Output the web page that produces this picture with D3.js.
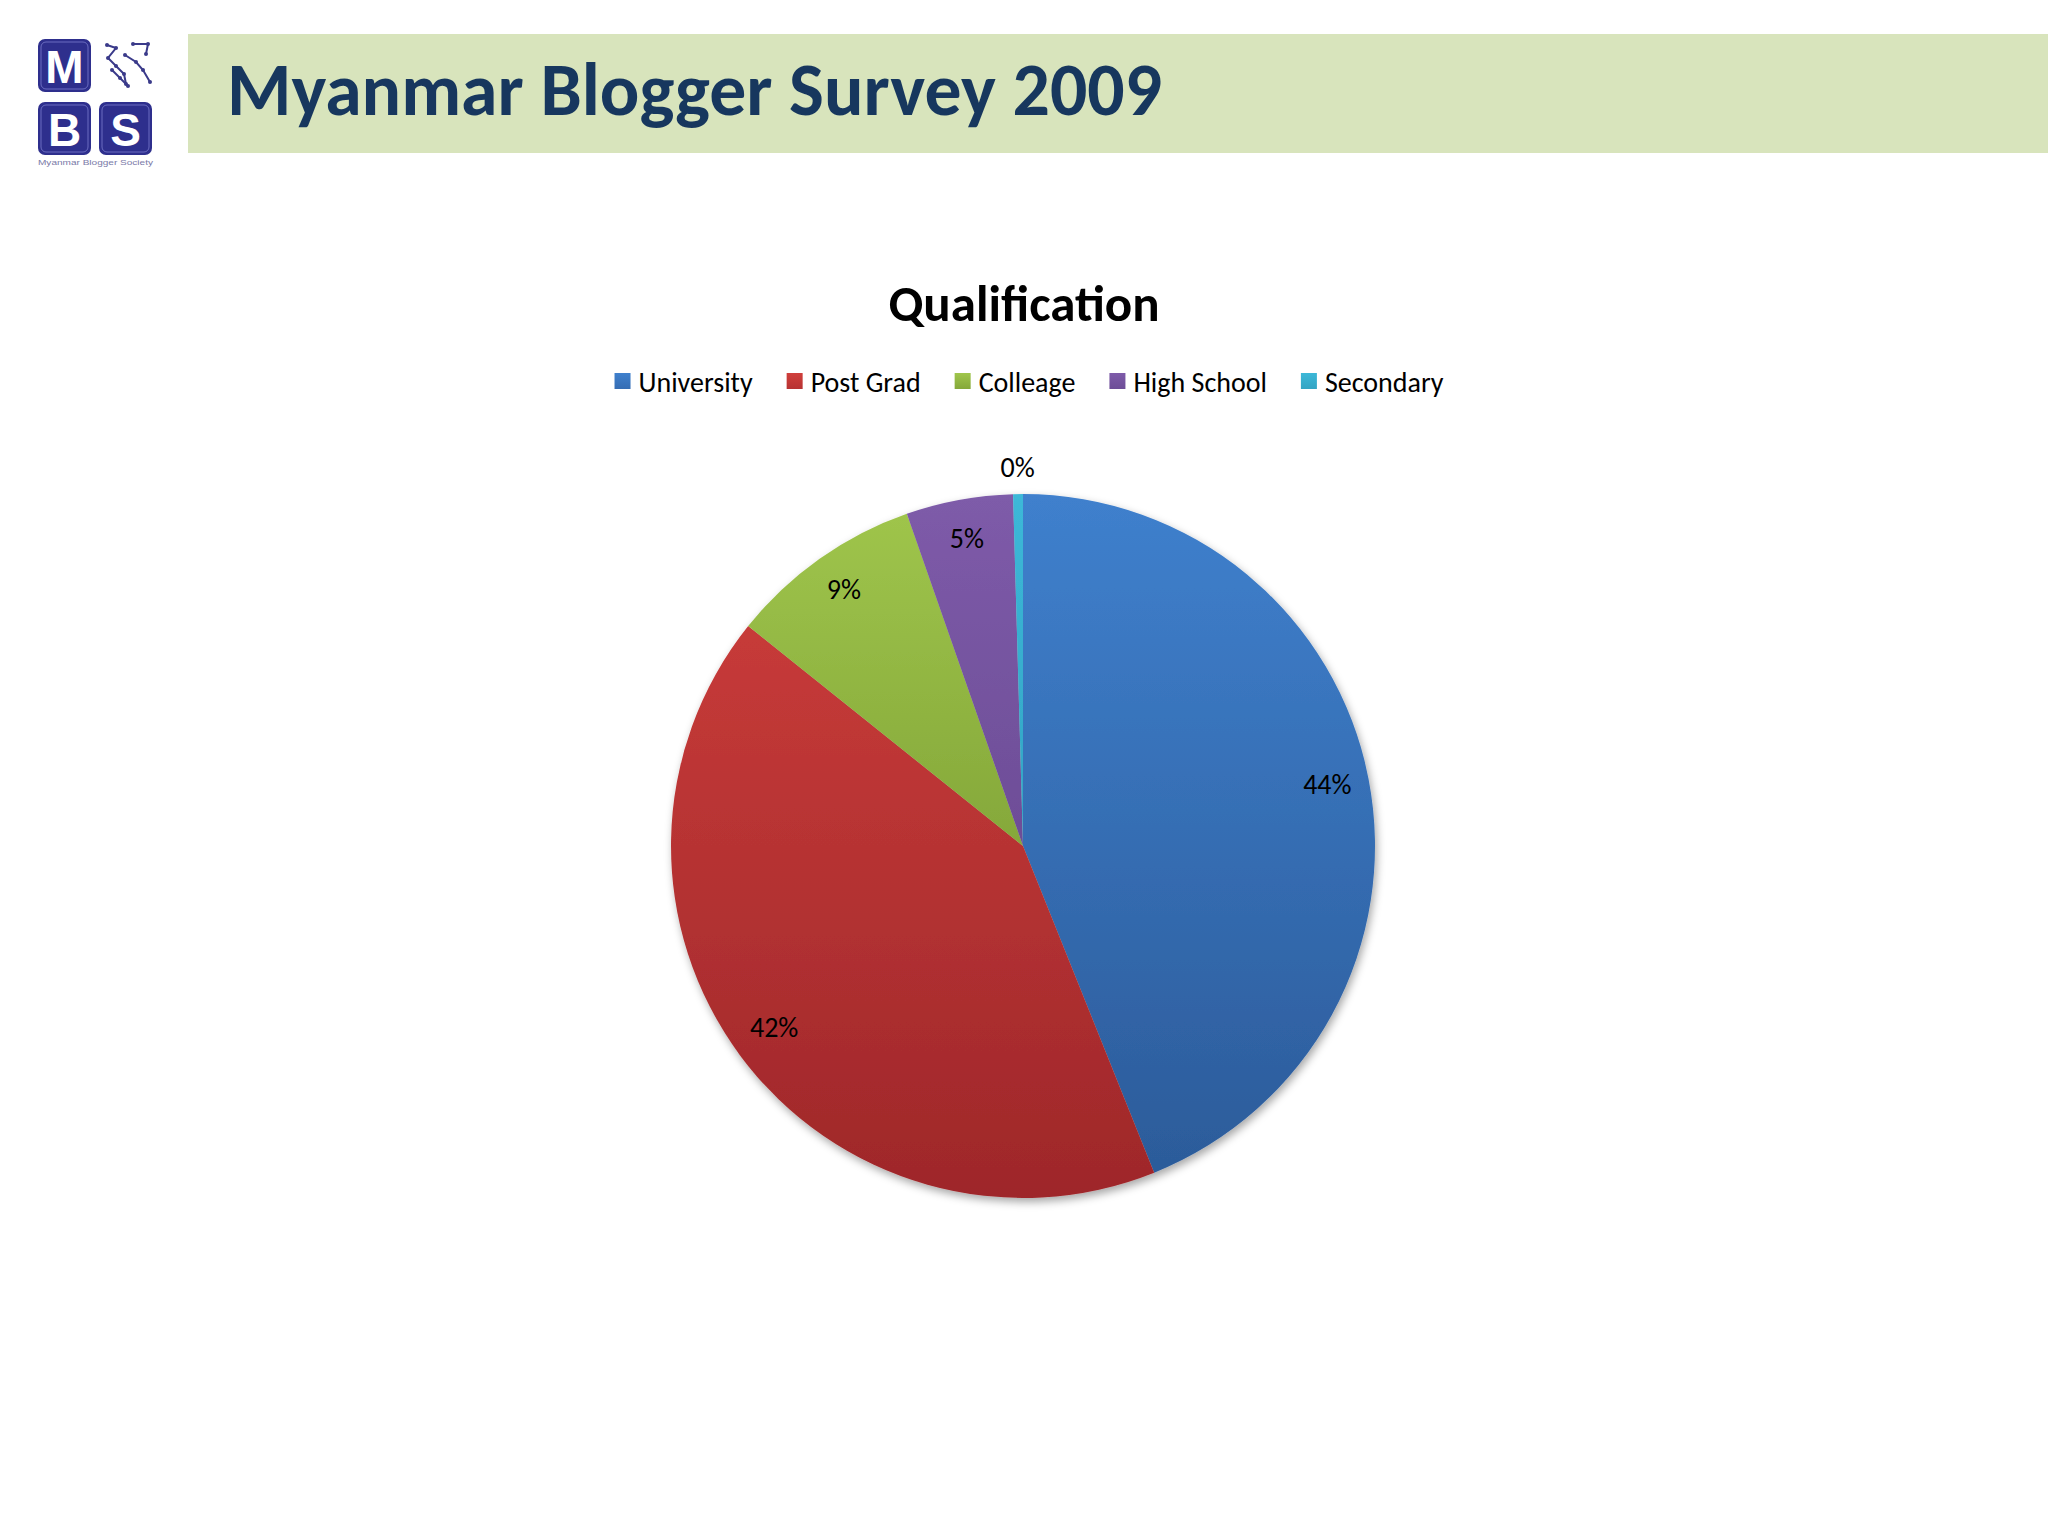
<!DOCTYPE html>
<html>
<head>
<meta charset="utf-8">
<script src="https://cdn.jsdelivr.net/npm/d3@7"></script>
<style>
  html, body { margin: 0; padding: 0; background: #ffffff; }
  svg { display: block; }
</style>
</head>
<body>
<svg id="chart" width="2048" height="1536"></svg>
<script>
// ---------- data ----------
const pageTitle = "Myanmar Blogger Survey 2009";
const chartTitle = "Qualification";
const categories = ["University", "Post Grad", "Colleage", "High School", "Secondary"];
const values = [43.9, 41.8, 8.9, 4.9, 0.45];           // percent
const topColors = ["#3f80cd", "#d03f3c", "#a0c64c", "#7e5ba9", "#3cb8d8"];
const bottomColors = ["#2b5a98", "#9e272a", "#6a8a28", "#5c3f85", "#2a8fae"];

// ---------- layout ----------
const W = 2048, H = 1536;
const FONT = "Calibri, Carlito, Lato, 'Open Sans', sans-serif";
const cx = 1023, cy = 846, R = 352;

const svg = d3.select("#chart");
const defs = svg.append("defs");

// ---------- header banner ----------
svg.append("rect").attr("x", 188).attr("y", 34).attr("width", W - 188).attr("height", 119)
  .attr("fill", "#d8e4bc");
svg.append("text").attr("x", 227).attr("y", 115)
  .attr("font-family", FONT).attr("font-weight", 700).attr("font-size", 74)
  .attr("fill", "#17375e").attr("textLength", 935).attr("lengthAdjust", "spacingAndGlyphs")
  .text(pageTitle);

// ---------- logo ----------
const logo = svg.append("g");
const navy = "#2e2f8d";
[[38, 39, "M"], [38, 102, "B"], [99, 102, "S"]].forEach(([x, y, ch]) => {
  logo.append("rect").attr("x", x).attr("y", y).attr("width", 53).attr("height", 53)
    .attr("rx", 7).attr("fill", navy);
  logo.append("rect").attr("x", x + 3).attr("y", y + 3).attr("width", 47).attr("height", 47)
    .attr("rx", 5).attr("fill", "none").attr("stroke", "#6a6cc0").attr("stroke-width", 1);
  logo.append("text").attr("x", x + 26.5).attr("y", y + 44).attr("text-anchor", "middle")
    .attr("font-family", "Liberation Sans, Arial, sans-serif").attr("font-weight", 700)
    .attr("font-size", 46).attr("fill", "#ffffff").text(ch);
});
const net = [[[107, 45], [116, 48], [108, 58], [116, 66], [124, 74], [126, 84]],
             [[133, 44], [148, 44], [146, 54]],
             [[125, 55], [136, 62], [143, 70], [150, 82]],
             [[112, 70], [120, 78], [128, 86]]];
net.forEach(pts => {
  logo.append("path").attr("d", d3.line()(pts)).attr("fill", "none")
    .attr("stroke", "#3a3a8a").attr("stroke-width", 2);
  pts.forEach(p => logo.append("circle").attr("cx", p[0]).attr("cy", p[1]).attr("r", 2).attr("fill", "#3a3a8a"));
});
logo.append("text").attr("x", 38).attr("y", 165)
  .attr("font-family", "Liberation Sans, Arial, sans-serif").attr("font-size", 8)
  .attr("textLength", 115).attr("lengthAdjust", "spacingAndGlyphs")
  .attr("fill", "#7a7aa8").text("Myanmar Blogger Society");

// ---------- chart title ----------
svg.append("text").attr("x", 1024).attr("y", 321).attr("text-anchor", "middle")
  .attr("font-family", FONT).attr("font-weight", 700).attr("font-size", 51)
  .attr("fill", "#000000").text(chartTitle);

// ---------- gradients ----------
categories.forEach((c, i) => {
  const g = defs.append("linearGradient").attr("id", "grad" + i)
    .attr("gradientUnits", "userSpaceOnUse")
    .attr("x1", 0).attr("x2", 0).attr("y1", -R).attr("y2", R);
  g.append("stop").attr("offset", "0%").attr("stop-color", topColors[i]);
  g.append("stop").attr("offset", "100%").attr("stop-color", bottomColors[i]);
  const g2 = defs.append("linearGradient").attr("id", "lgrad" + i)
    .attr("x1", 0).attr("x2", 0).attr("y1", 0).attr("y2", 1);
  g2.append("stop").attr("offset", "0%").attr("stop-color", topColors[i]);
  g2.append("stop").attr("offset", "100%").attr("stop-color", d3.interpolateRgb(topColors[i], bottomColors[i])(0.5));
});
const shadow = defs.append("filter").attr("id", "shadow")
  .attr("x", "-10%").attr("y", "-10%").attr("width", "120%").attr("height", "120%");
shadow.append("feDropShadow").attr("dx", 2).attr("dy", 4).attr("stdDeviation", 4)
  .attr("flood-color", "#000").attr("flood-opacity", 0.35);

// ---------- legend ----------
const legendY = 381, sq = 16, sqGap = 8, itemGap = 34, legendFont = 28;
const legend = svg.append("g");
const items = categories.map((c, i) => {
  const t = legend.append("text").attr("font-family", FONT).attr("font-size", legendFont)
    .attr("fill", "#000").attr("dominant-baseline", "central").text(c);
  return { t, w: t.node().getComputedTextLength(), i };
});
const totalW = d3.sum(items, d => sq + sqGap + d.w) + itemGap * (items.length - 1);
let lx = 1029 - totalW / 2;
items.forEach(d => {
  legend.append("rect").attr("x", lx).attr("y", legendY - sq / 2).attr("width", sq).attr("height", sq)
    .attr("fill", "url(#lgrad" + d.i + ")");
  d.t.attr("x", lx + sq + sqGap).attr("y", legendY + 1);
  lx += sq + sqGap + d.w + itemGap;
});

// ---------- pie ----------
const pie = d3.pie().sort(null).value(d => d)(values);
const arc = d3.arc().innerRadius(0).outerRadius(R);
const total = d3.sum(values);
const pg = svg.append("g").attr("transform", `translate(${cx},${cy})`);
pg.append("g").attr("filter", "url(#shadow)")
  .selectAll("path").data(pie).join("path")
  .attr("d", arc)
  .attr("fill", (d, i) => "url(#grad" + i + ")");

const fmt = v => Math.round(v / total * 100) + "%";
const inArc = d3.arc().innerRadius(R - 42).outerRadius(R - 42);
const outArc = d3.arc().innerRadius(R + 24).outerRadius(R + 24);
pg.append("g").selectAll("text").data(pie).join("text")
  .attr("transform", d => {
    const p = (d.value / total < 0.01 ? outArc : inArc).centroid(d);
    return `translate(${p[0]},${p[1] - 3})`;
  })
  .attr("text-anchor", "middle").attr("dominant-baseline", "central")
  .attr("font-family", FONT).attr("font-size", 28).attr("fill", "#000")
  .text(d => fmt(d.value));
</script>
</body>
</html>
